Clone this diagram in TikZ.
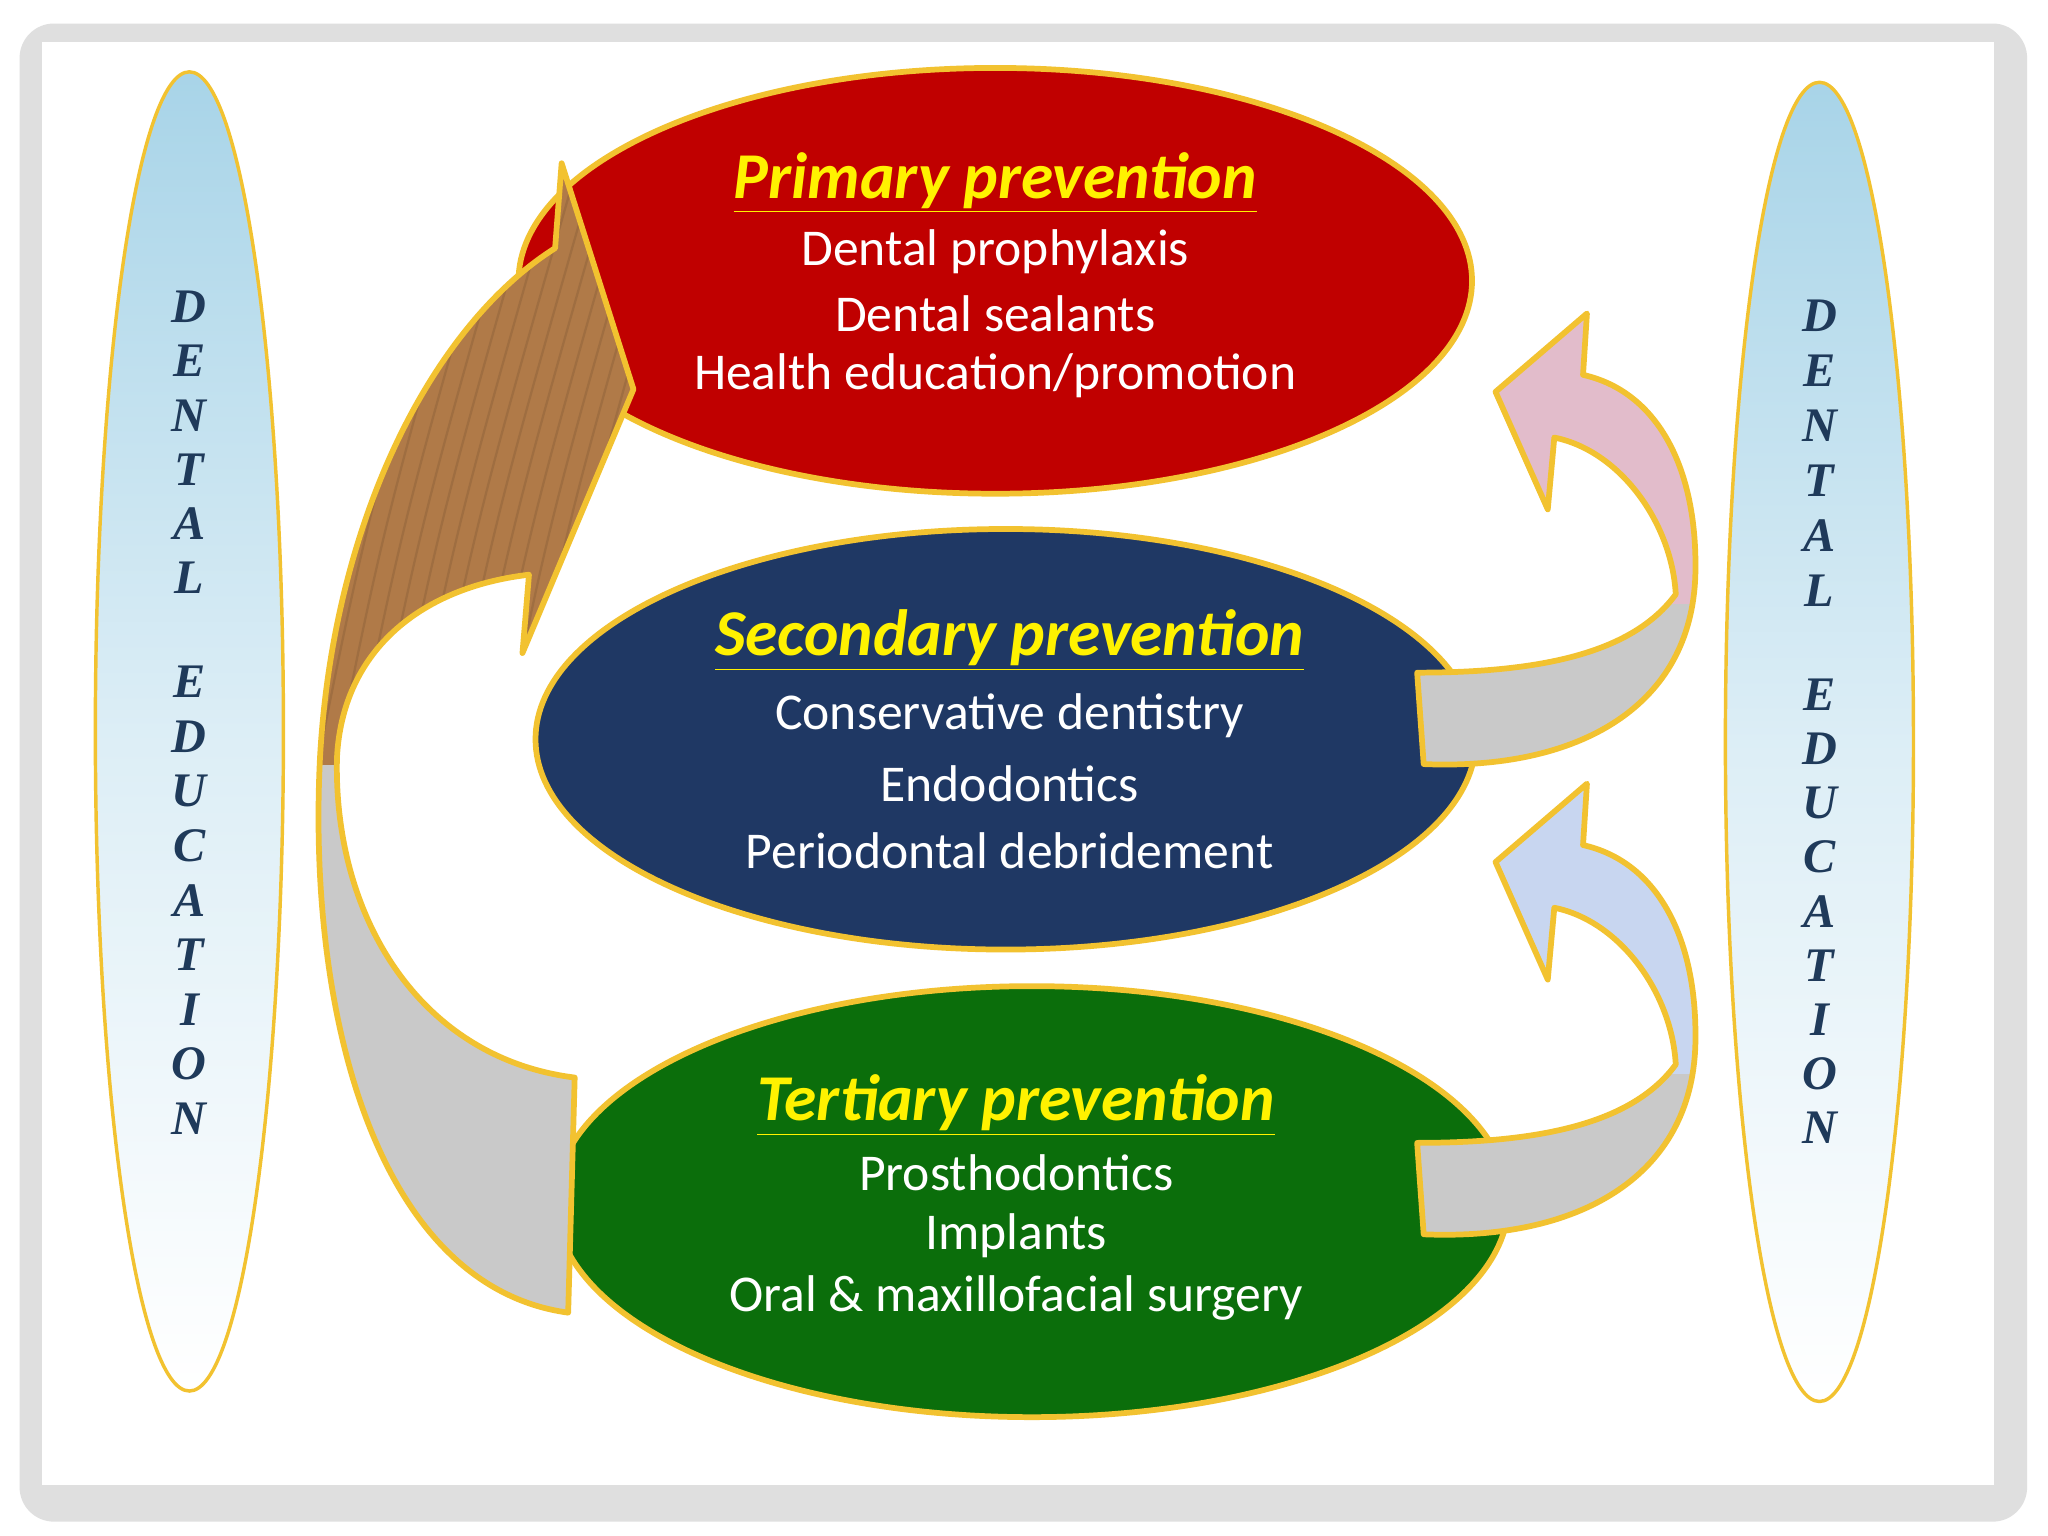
\documentclass[tikz,border=0pt]{standalone}
\usepackage{fontspec}
\setmainfont{Carlito}
\newfontfamily\serifb{Liberation Serif}
\begin{document}
\begin{tikzpicture}[x=0.02cm,y=-0.02cm]
\definecolor{gold}{HTML}{F2C230}
\definecolor{red1}{HTML}{C00000}
\definecolor{blue1}{HTML}{1F3864}
\definecolor{green1}{HTML}{0B6E0B}
\definecolor{lb}{HTML}{A8D4E8}
\definecolor{navy}{HTML}{1F3A5A}
\definecolor{wood}{HTML}{B07A48}
\definecolor{gr}{HTML}{C9C9C9}
\definecolor{pink1}{HTML}{E2BCCB}
\definecolor{lblue}{HTML}{C8D6F0}
\tikzset{
 ell/.style={draw=gold,line width=2.5pt},
 arr/.style={draw=gold,line width=2.5pt,line join=round},
 ttl/.style={font=\fontsize{28.5}{28.5}\selectfont\bfseries\itshape,text=yellow},
 body/.style={font=\fontsize{22.5}{22.5}\selectfont,text=white},
 let/.style={font=\serifb\fontsize{21}{21}\selectfont\bfseries\itshape,text=navy}
}
\useasboundingbox (0,0) rectangle (1568,1176);
\fill[white] (0,0) rectangle (1568,1176);
\fill[gray!25,rounded corners=15] (15,18) rectangle (1552,1165);
\fill[white] (32,32) rectangle (1527,1137);
% side ellipses
\shade[top color=lb,bottom color=white,middle color=white!60!lb] (145,560) ellipse [x radius=72,y radius=505];
\draw[draw=gold,line width=1.5pt] (145,560) ellipse [x radius=72,y radius=505];
\shade[top color=lb,bottom color=white,middle color=white!60!lb] (1393,568) ellipse [x radius=72,y radius=505];
\draw[draw=gold,line width=1.5pt] (1393,568) ellipse [x radius=72,y radius=505];
\foreach \c [count=\i from 0] in {D,E,N,T,A,L}{
 \node[let] (l\i) at (145,235+41.5*\i) {\c};
 \node[let] (r\i) at (1393,242+42*\i) {\c};}
\foreach \c [count=\i from 0] in {E,D,U,C,A,T,I,O,N}{
 \node[let] (le\i) at (145,522+41.8*\i) {\c};
 \node[let] (re\i) at (1393,532+41.4*\i) {\c};}
% main ellipses
\draw[ell,fill=red1] (762,215) ellipse [x radius=365,y radius=163];
\draw[ell,fill=blue1] (770,566) ellipse [x radius=360,y radius=161];
\draw[ell,fill=green1] (790,920) ellipse [x radius=365,y radius=165];
\node[ttl] (t1) at (762,140) {\underline{Primary prevention}};
\node[body] (b11) at (762,193) {Dental prophylaxis};
\node[body] (b12) at (762,240) {Dental sealants};
\node[body] (b13) at (762,288) {Health education/promotion};
\node[ttl] (t2) at (773,490) {\underline{Secondary prevention}};
\node[body] (b21) at (773,548) {Conservative dentistry};
\node[body] (b22) at (773,600) {Endodontics};
\node[body] (b23) at (773,651) {Periodontal debridement};
\node[ttl] (t3) at (778,846) {\underline{Tertiary prevention}};
\node[body] (b31) at (778,898) {Prosthodontics};
\node[body] (b32) at (778,946) {Implants};
\node[body] (b33) at (778,994) {Oral \& maxillofacial surgery};
% left arrow
\def\leftarr{(435,1005) .. controls (290,985) and (235,780) .. (245,580) .. controls (255,400) and (330,250) .. (425,190) -- (430,125) -- (485,298) -- (400,500) -- (405,440) .. controls (320,450) and (262,500) .. (258,580) .. controls (255,700) and (320,810) .. (440,825) -- cycle}
\fill[gr] \leftarr;
\begin{scope}\clip (0,0) rectangle (600,585); \clip \leftarr; \fill[wood] \leftarr;
\foreach \k in {0,...,16}{\draw[wood!70!black,opacity=0.3,line width=1pt] (240+14*\k,600) .. controls (280+14*\k,400) .. (360+14*\k,120);}
\end{scope}
\draw[arr] \leftarr;
% right arrows
\def\rightarr{(1090,585) .. controls (1210,590) and (1295,540) .. (1298,440) .. controls (1300,360) and (1270,300) .. (1212,287) -- (1215,240) -- (1145,300) -- (1185,390) -- (1190,335) .. controls (1240,345) and (1280,400) .. (1283,455) .. controls (1250,500) and (1180,515) .. (1085,515) -- cycle}
\fill[gr] \rightarr;
\begin{scope}\clip (1100,200) rectangle (1400,462); \fill[pink1] \rightarr; \end{scope}
\draw[arr] \rightarr;
\begin{scope}[yshift=-360*0.02cm]
\fill[gr] \rightarr;
\begin{scope}\clip (1100,200) rectangle (1400,462); \fill[lblue] \rightarr; \end{scope}
\draw[arr] \rightarr;
\end{scope}
\end{tikzpicture}
\end{document}
